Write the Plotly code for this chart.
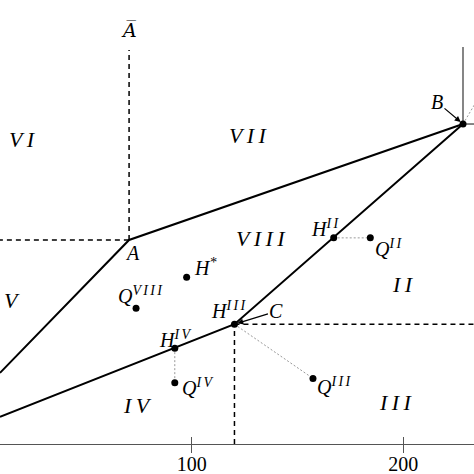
import plotly.graph_objects as go

point_A = (70.4, 96.4)
point_B = (228.2, 151.2)
point_C = (120.2, 56.6)
lower_left_start = (9.4, 33.6)     # left end of line to A
lower_start = (9.4, 12.8)          # left end of line to C
A_bar_top = 186.2
B_vert_top = 187.6
B_dotted_end = (235.5, 163.5)

H_II = (167.1, 97.4)
Q_II = (184.4, 97.4)
H_IV = (92.0, 45.3)
Q_IV = (92.0, 29.0)
H_star = (97.6, 78.8)
Q_VIII = (73.7, 64.1)
Q_III = (157.3, 31.0)

tick_vals = [100, 200]
tick_text = ["100", "200"]
x_range = [9.4, 233.4]
y_range = [0, 209.8]

region_labels = ["VI", "VII", "VIII", "V", "II", "III", "IV"]
region_x = [19.8, 126.8, 132.7, 15.1, 199.7, 196.5, 74.6]
region_y = [144.1, 146.0, 96.9, 67.6, 75.3, 19.8, 18.4]

point_labels = ["H<sup>II</sup>", "Q<sup>II</sup>", "H<sup>*</sup>", "Q<sup>VIII</sup>",
                "H<sup>III</sup>", "H<sup>IV</sup>", "Q<sup>IV</sup>", "Q<sup>III</sup>", "A"]
point_label_x = [163.0, 192.8, 106.3, 76.0, 117.6, 92.1, 102.5, 167.2, 71.8]
point_label_y = [102.1, 92.6, 83.6, 70.4, 63.3, 49.6, 26.9, 27.4, 90.3]

FONT = "Liberation Serif"
fig = go.Figure()

def line(xs, ys, color="black", width=2, dash="solid", xaxis="x"):
    fig.add_trace(go.Scatter(x=xs, y=ys, mode="lines", xaxis=xaxis,
                             line=dict(color=color, width=width, dash=dash),
                             hoverinfo="skip", showlegend=False))

# solid boundary lines
line([lower_left_start[0], point_A[0], point_B[0]], [lower_left_start[1], point_A[1], point_B[1]])
line([lower_start[0], point_C[0], point_B[0]], [lower_start[1], point_C[1], point_B[1]])
# thin solid lines at B
line([point_B[0], point_B[0]], [point_B[1], B_vert_top], color="#444", width=1.3)
line([point_B[0], x_range[1] + 2], [point_B[1], point_B[1]], color="#444", width=1.3)

# dashed lines
dash = "5px,4px"
line([x_range[0] - 1, point_A[0]], [point_A[1], point_A[1]], width=1.5, dash=dash)
line([point_A[0], point_A[0]], [point_A[1], A_bar_top], width=1.5, dash=dash)
line([point_C[0], x_range[1] + 2], [point_C[1], point_C[1]], width=1.5, dash=dash)
line([point_C[0], point_C[0]], [0, point_C[1]], width=1.5, dash=dash)

# dotted connectors
dot = "2px,2px"
line([H_II[0], Q_II[0]], [H_II[1], Q_II[1]], color="#999", width=1, dash=dot)
line([H_IV[0], Q_IV[0]], [H_IV[1], Q_IV[1]], color="#999", width=1, dash=dot)
line([point_C[0], Q_III[0]], [point_C[1], Q_III[1]], color="#999", width=1, dash=dot)
line([point_B[0], B_dotted_end[0]], [point_B[1], B_dotted_end[1]], color="#999", width=1, dash=dot)

# points
pts = [point_B, point_C, H_II, Q_II, H_IV, Q_IV, H_star, Q_VIII, Q_III]
fig.add_trace(go.Scatter(x=[p[0] for p in pts], y=[p[1] for p in pts], mode="markers",
                         marker=dict(color="black", size=7), hoverinfo="skip", showlegend=False))

# invisible trace for secondary (inside-tick) axis
fig.add_trace(go.Scatter(x=tick_vals, y=[None, None], xaxis="x2", mode="markers",
                         showlegend=False, hoverinfo="skip"))

annotations = []
for t, x, y in zip(region_labels, region_x, region_y):
    annotations.append(dict(x=x, y=y, text="<i>" + "\u2009".join(t) + "</i>", showarrow=False,
                            font=dict(family=FONT, size=22, color="black")))
for t, x, y in zip(point_labels, point_label_x, point_label_y):
    if "<sup>" in t:
        base, sup = t.split("<sup>")
        sup = sup.replace("</sup>", "")
        sup = "\u2006".join(sup)
        t2 = "<i>" + base + "</i><sup><i>" + sup + "</i></sup>"
    else:
        t2 = "<i>" + t + "</i>"
    annotations.append(dict(x=x, y=y, text=t2, showarrow=False,
                            font=dict(family=FONT, size=20, color="black")))
# A-bar
annotations.append(dict(x=point_A[0], y=195.7, text="<i>A\u0305</i>", showarrow=False,
                        font=dict(family="DejaVu Serif", size=19, color="black")))
# B and C with arrows
annotations.append(dict(x=point_B[0], y=point_B[1], ax=-26, ay=-22, text="<i>B</i>",
                        showarrow=True, arrowhead=2, arrowsize=1, arrowwidth=1.2,
                        arrowcolor="black", standoff=3,
                        font=dict(family=FONT, size=20, color="black")))
annotations.append(dict(x=point_C[0], y=point_C[1], ax=42, ay=-13, text="<i>C</i>",
                        showarrow=True, arrowhead=2, arrowsize=1, arrowwidth=1.2,
                        arrowcolor="black", standoff=3,
                        font=dict(family=FONT, size=20, color="black")))

fig.update_layout(
    width=474, height=474,
    margin=dict(l=0, r=0, t=0, b=30, autoexpand=False),
    plot_bgcolor="white", paper_bgcolor="white",
    xaxis=dict(range=x_range, showgrid=False, zeroline=False, showline=True,
               linecolor="#555", linewidth=1, ticks="outside", ticklen=8, tickcolor="#555",
               tickvals=tick_vals, ticktext=tick_text, ticklabelstandoff=-6,
               tickfont=dict(family=FONT, size=20, color="black")),
    xaxis2=dict(matches="x", overlaying="x", anchor="y", side="bottom", range=x_range,
                showgrid=False, zeroline=False, showline=False, ticks="inside", ticklen=7,
                tickcolor="#555", tickvals=tick_vals, showticklabels=False),
    yaxis=dict(range=y_range, visible=False, showgrid=False, zeroline=False),
    annotations=annotations,
)

fig.write_html("out.html", config={"displayModeBar": False},
               post_script="document.body.style.margin='0';document.body.style.overflow='hidden';")
